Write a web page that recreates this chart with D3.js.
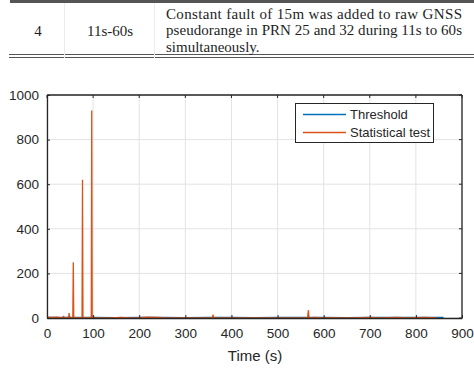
<!DOCTYPE html>
<html>
<head>
  <script src="https://cdnjs.cloudflare.com/ajax/libs/d3/7.0.0/d3.min.js"></script>
  <style>
    body { margin: 0; background: #fff; }
    svg { display: block; }
  </style>
</head>
<body>
  <div id="chart"></div>

  <script>
    // table row above the figure
    var rowNumber = "4";
    var rowPeriod = "11s-60s";
    var rowText = [
      "Constant fault of 15m was added to raw GNSS",
      "pseudorange in PRN 25 and 32 during 11s to 60s",
      "simultaneously."
    ];

    // threshold series
    var thresholdTime = [0, 50, 100, 150, 200, 250, 300, 350, 400, 450, 500, 550, 600, 650, 700, 750, 800, 860];
    var thresholdValue = [3, 3, 3, 2, 3, 3, 2, 3, 3, 2, 3, 3, 3, 2, 3, 3, 3, 3];

    // statistical test series
    var testTime = [0, 10, 20, 30, 34, 36, 38, 44, 47, 48, 49, 52, 55, 56, 57, 58, 59, 65, 75, 76, 77, 78, 79, 85,
                    95, 96, 97, 98, 99, 105, 120, 140, 160, 180, 200, 220, 240, 260, 280, 300, 320, 340, 356, 359,
                    360, 361, 364, 380, 400, 420, 440, 460, 480, 500, 520, 540, 560, 565, 567, 568, 570, 580,
                    600, 620, 640, 660, 680, 700, 720, 740, 760, 780, 800, 820, 846];
    var testValue = [4, 3, 4, 2, 3, 7, 2, 3, 5, 22, 5, 2, 2, 6, 250, 6, 2, 2, 2, 6, 620, 6, 2, 2,
                     2, 8, 930, 10, 2, 1, 1, 0, 3, 1, 2, 4, 3, 1, 0, 0, 1, 0, 1, 3,
                     15, 4, 1, 0, 1, 0, 1, 0, 1, 0, 1, 0, 1, 3, 35, 6, 1, 3,
                     1, 2, 0, 1, 2, 3, 1, 2, 3, 1, 2, 3, 1];

    var xTicks = [0, 100, 200, 300, 400, 500, 600, 700, 800, 900];
    var yTicks = [0, 200, 400, 600, 800, 1000];
    var seriesNames = ["Threshold", "Statistical test"];
    var seriesColors = ["#0072BD", "#D95319"];

    var W = 474, H = 390;
    var plot = { left: 47, right: 462, top: 95, bottom: 318 };

    var svg = d3.select("#chart")
      .append("svg")
      .attr("width", W)
      .attr("height", H);

    // ---- table fragment ----
    var table = svg.append("g");
    table.append("rect").attr("x", 10).attr("y", 0).attr("width", W - 10).attr("height", 3).attr("fill", "#555");
    table.append("line").attr("x1", 9).attr("x2", W).attr("y1", 54.5).attr("y2", 54.5)
      .attr("stroke", "#555").attr("stroke-width", 1.2);
    table.append("line").attr("x1", 9).attr("x2", W).attr("y1", 57.5).attr("y2", 57.5)
      .attr("stroke", "#555").attr("stroke-width", 1.2);
    [64.5, 154.5].forEach(function(xx) {
      table.append("line").attr("x1", xx).attr("x2", xx).attr("y1", 3).attr("y2", 58)
        .attr("stroke", "#ececec").attr("stroke-width", 1);
    });

    var serif = "'Liberation Serif', 'Times New Roman', serif";
    function cell(px, py, str, anchor) {
      return table.append("text")
        .attr("x", px)
        .attr("y", py)
        .attr("text-anchor", anchor)
        .style("font-family", serif)
        .style("font-size", "15px")
        .attr("fill", "#1e1e1e")
        .text(str);
    }
    cell(38, 36, rowNumber, "middle");
    cell(110, 36, rowPeriod, "middle");
    rowText.forEach(function(line, i) {
      var t = cell(166, 18.5 + i * 16.7, line, "start");
      if (i < rowText.length - 1) {
        t.attr("textLength", 296).attr("lengthAdjust", "spacing");
      }
    });

    // ---- plot ----
    var x = d3.scaleLinear().domain([0, 900]).range([plot.left, plot.right]);
    var y = d3.scaleLinear().domain([0, 1000]).range([plot.bottom, plot.top]);
    var sans = "'Liberation Sans', Arial, Helvetica, sans-serif";

    var g = svg.append("g");

    // grid
    g.selectAll(".gx").data(xTicks).enter().append("line")
      .attr("x1", d => x(d)).attr("x2", d => x(d))
      .attr("y1", plot.top).attr("y2", plot.bottom)
      .attr("stroke", "#e3e3e3").attr("stroke-width", 1);
    g.selectAll(".gy").data(yTicks).enter().append("line")
      .attr("x1", plot.left).attr("x2", plot.right)
      .attr("y1", d => y(d)).attr("y2", d => y(d))
      .attr("stroke", "#e3e3e3").attr("stroke-width", 1);

    // series
    var line = d3.line().x(d => x(d[0])).y(d => y(d[1]));
    var thresholdData = thresholdTime.map((t, i) => [t, thresholdValue[i]]);
    var testData = testTime.map((t, i) => [t, testValue[i]]);

    g.append("path").datum(thresholdData)
      .attr("d", line).attr("fill", "none")
      .attr("stroke", seriesColors[0]).attr("stroke-width", 1.3);
    g.append("path").datum(testData)
      .attr("d", line).attr("fill", "none")
      .attr("stroke", seriesColors[1]).attr("stroke-width", 1.3);

    // axes (inside ticks, box)
    var axisColor = "#262626";
    var xAxis = d3.axisBottom(x).tickValues(xTicks).tickFormat(d3.format("d"))
      .tickSizeInner(-3).tickSizeOuter(0).tickPadding(10);
    var yAxis = d3.axisLeft(y).tickValues(yTicks).tickFormat(d3.format("d"))
      .tickSizeInner(-3).tickSizeOuter(0).tickPadding(8);

    var gx = svg.append("g").attr("transform", "translate(0," + plot.bottom + ")").call(xAxis);
    var gy = svg.append("g").attr("transform", "translate(" + plot.left + ",0)").call(yAxis);
    [gx, gy].forEach(function(a) {
      a.select(".domain").attr("stroke", axisColor).attr("stroke-width", 1.3);
      a.selectAll(".tick line").attr("stroke", axisColor);
      a.selectAll(".tick text").attr("fill", axisColor)
        .style("font-family", sans).style("font-size", "13.5px");
    });

    // top and right box edges with inner ticks
    svg.append("line").attr("x1", plot.left).attr("x2", plot.right).attr("y1", plot.top).attr("y2", plot.top)
      .attr("stroke", axisColor).attr("stroke-width", 1.3);
    svg.append("line").attr("x1", plot.right).attr("x2", plot.right).attr("y1", plot.top).attr("y2", plot.bottom)
      .attr("stroke", axisColor).attr("stroke-width", 1.3);
    svg.selectAll(".tt").data(xTicks).enter().append("line")
      .attr("x1", d => x(d)).attr("x2", d => x(d)).attr("y1", plot.top).attr("y2", plot.top + 3)
      .attr("stroke", axisColor);
    svg.selectAll(".rt").data(yTicks).enter().append("line")
      .attr("x1", plot.right - 3).attr("x2", plot.right).attr("y1", d => y(d)).attr("y2", d => y(d))
      .attr("stroke", axisColor);

    // x label
    svg.append("text")
      .attr("x", (plot.left + plot.right) / 2 + 0.5)
      .attr("y", 361)
      .attr("text-anchor", "middle")
      .attr("fill", axisColor)
      .style("font-family", sans)
      .style("font-size", "15px")
      .text("Time (s)");

    // legend
    var lg = svg.append("g");
    lg.append("rect").attr("x", 295.5).attr("y", 103.5).attr("width", 138).attr("height", 39)
      .attr("fill", "#fff").attr("stroke", axisColor).attr("stroke-width", 1);
    seriesNames.forEach(function(name, i) {
      var yy = 114.5 + i * 18;
      lg.append("line").attr("x1", 303).attr("x2", 346).attr("y1", yy).attr("y2", yy)
        .attr("stroke", seriesColors[i]).attr("stroke-width", 1.3);
      lg.append("text").attr("x", 350).attr("y", yy + 4.5)
        .attr("fill", axisColor)
        .style("font-family", sans).style("font-size", "13px")
        .text(name);
    });
  </script>
</body>
</html>
